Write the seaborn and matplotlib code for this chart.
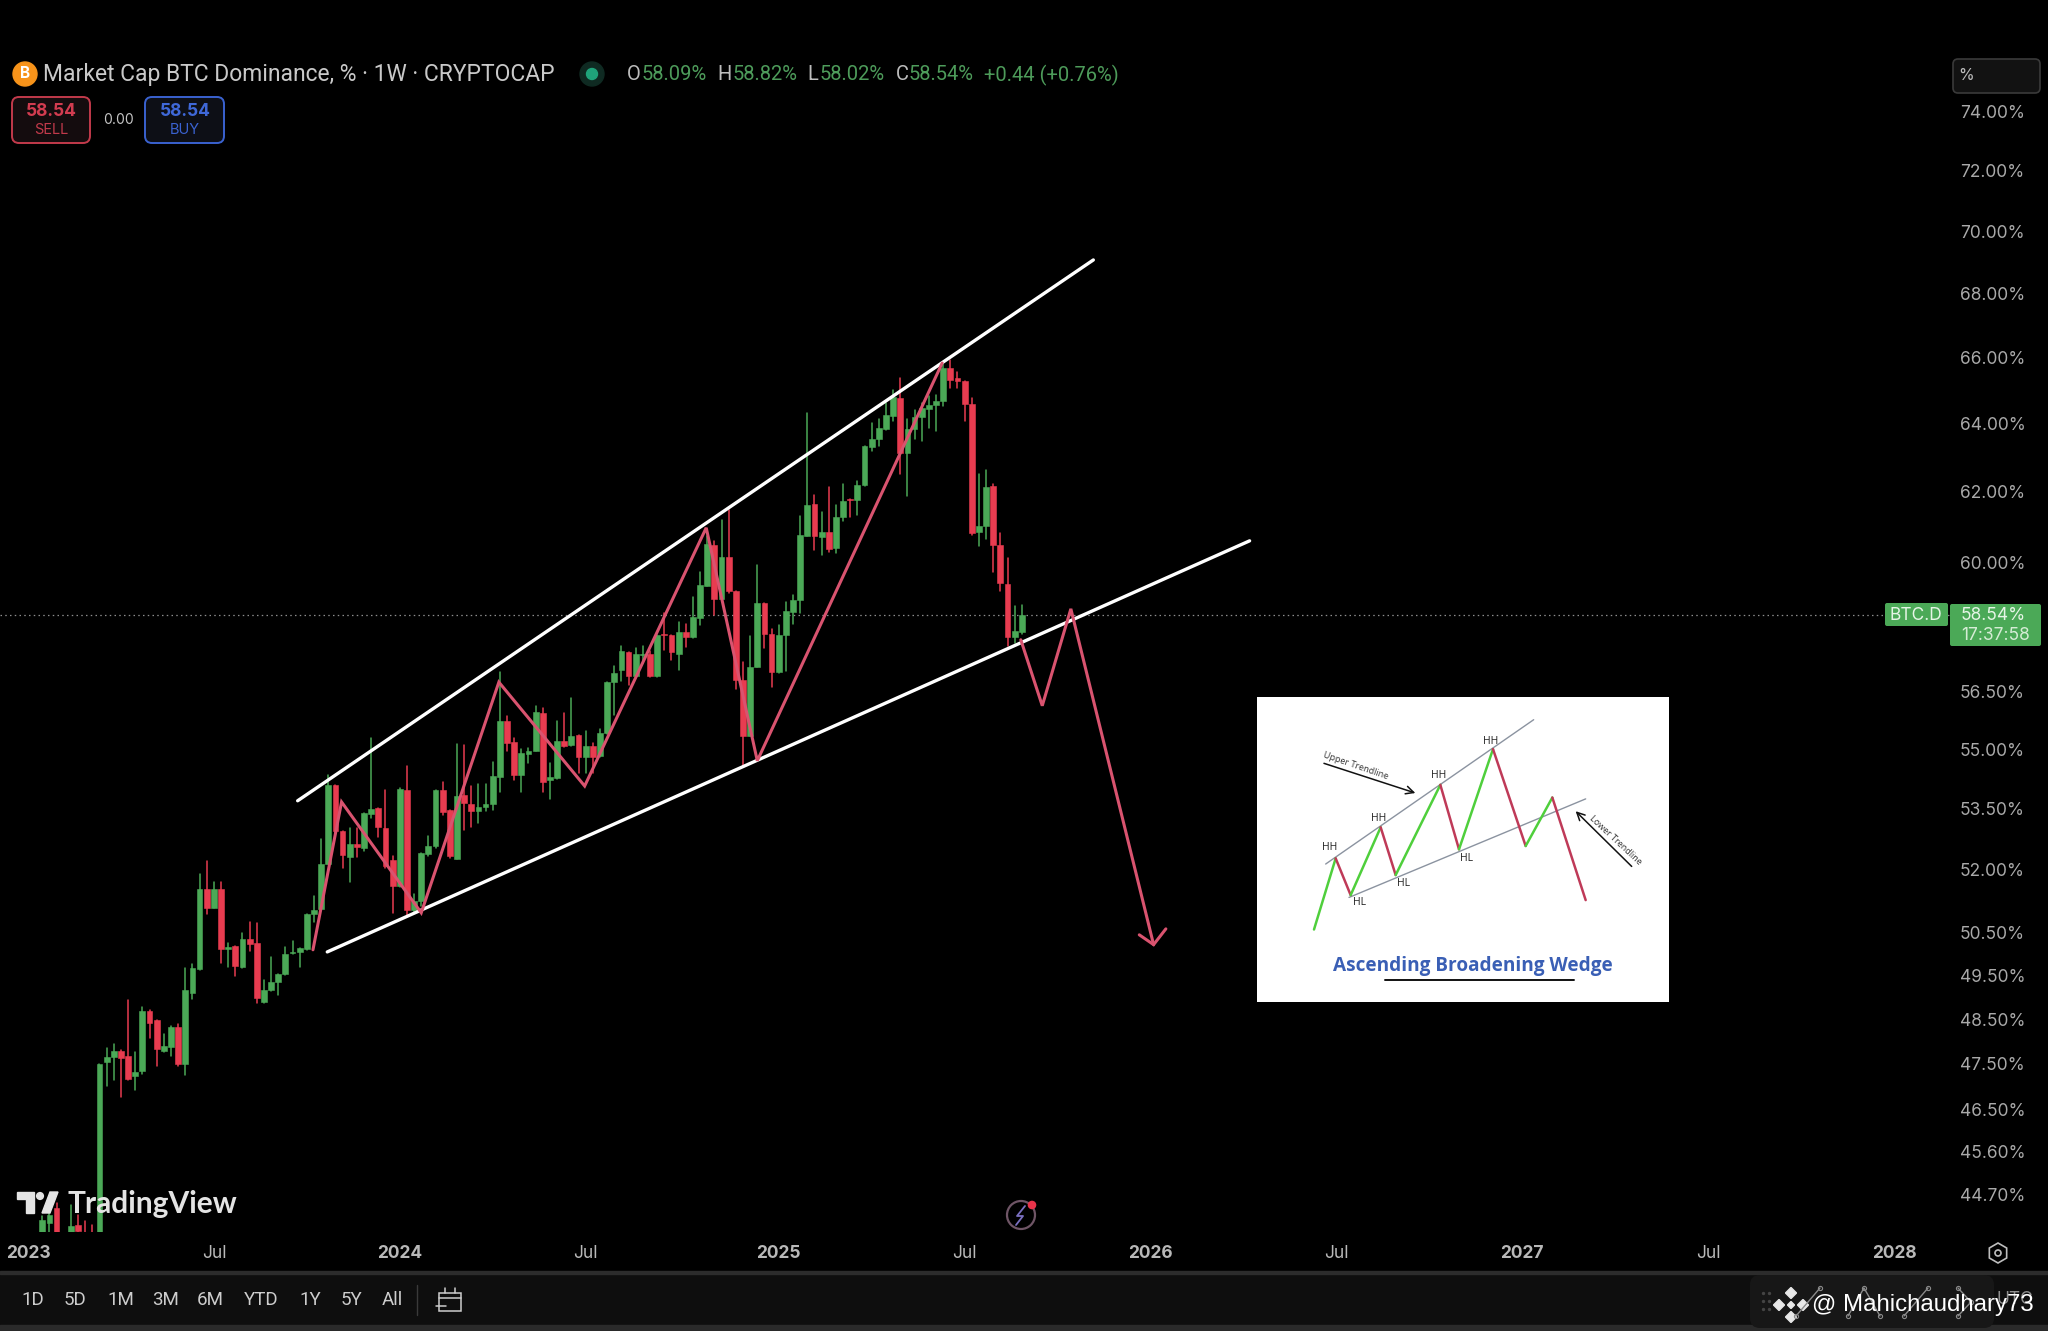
import matplotlib
matplotlib.use('Agg')
import matplotlib.pyplot as plt
import matplotlib.dates as mdates
from matplotlib.patches import Rectangle, Circle, FancyBboxPatch, Polygon, RegularPolygon
from matplotlib.ticker import NullLocator
import numpy as np
import pandas as pd
import seaborn as sns

# --- weekly candles, BTC dominance in percent ---
first_week = '2023-01-16'
opens = [43.80, 44.11, 44.42, 43.50, 43.80, 44.07, 43.85, 43.85,
         43.40, 47.53, 47.65, 47.79, 47.68, 47.22, 47.33, 48.69, 48.47, 47.78,
         47.88, 48.32, 47.50, 49.10, 49.64, 51.53, 51.07, 51.53, 50.11, 50.18,
         49.70, 50.34, 50.24, 48.89, 49.15, 49.34, 49.53, 50.01, 50.04, 50.11,
         50.92, 51.04, 52.14, 54.09, 52.94, 52.30, 52.61, 52.52, 53.36, 53.50,
         53.01, 52.24, 51.59, 53.96, 51.03, 51.23, 52.38, 52.56, 53.95, 53.46,
         52.25, 53.84, 53.61, 53.43, 53.53, 53.61, 54.30, 55.71, 55.18, 54.34,
         54.87, 54.94, 55.93, 54.20, 54.26, 55.20, 55.09, 55.37, 54.79, 55.07,
         54.81, 55.41, 56.75, 57.06, 57.53, 56.89, 57.46, 57.50, 56.89, 58.03,
         57.99, 57.50, 58.08, 57.94, 58.46, 59.35, 60.48, 58.98, 60.14, 59.19,
         56.80, 55.34, 57.15, 58.87, 58.03, 57.00, 57.99, 58.62, 58.96, 60.75,
         61.65, 60.71, 60.85, 60.40, 61.27, 61.79, 61.75, 62.20, 63.31, 63.55,
         63.84, 64.24, 64.76, 63.13, 63.84, 64.19, 64.44, 64.56, 64.68, 65.67,
         65.36, 65.29, 64.59, 60.84, 61.03, 62.18, 60.47, 59.40, 57.94, 58.09]
highs = [44.24, 44.31, 44.52, 43.70, 44.48, 44.26, 44.14, 44.07,
         47.49, 47.85, 47.93, 47.81, 48.93, 47.75, 48.78, 48.71, 48.47, 48.17,
         48.35, 48.39, 49.67, 49.76, 51.88, 52.20, 51.69, 51.69, 50.26, 50.18,
         50.48, 50.75, 50.71, 49.38, 49.92, 49.53, 50.15, 50.29, 50.12, 50.93,
         51.35, 52.73, 54.34, 54.09, 52.94, 53.01, 53.01, 53.38, 55.29, 53.50,
         53.95, 52.32, 54.01, 54.57, 51.42, 52.40, 52.81, 53.95, 54.16, 53.46,
         55.14, 55.09, 54.05, 54.11, 54.11, 54.68, 57.02, 55.86, 55.29, 55.00,
         55.03, 56.12, 56.06, 54.64, 55.71, 55.94, 56.32, 55.37, 55.46, 55.16,
         55.52, 56.75, 57.17, 57.71, 57.53, 57.65, 57.69, 57.56, 58.01, 58.59,
         57.99, 58.34, 58.29, 59.04, 59.74, 60.73, 60.59, 61.18, 61.48, 59.21,
         57.28, 57.97, 59.92, 58.87, 58.15, 58.28, 58.91, 59.10, 61.31, 64.33,
         61.91, 61.43, 62.13, 61.62, 62.22, 61.79, 62.30, 63.35, 64.02, 64.13,
         64.61, 65.01, 65.37, 64.13, 64.41, 64.61, 64.83, 64.86, 65.87, 65.92,
         65.55, 65.29, 64.76, 62.51, 62.62, 62.22, 60.82, 60.12, 58.80, 58.82]
lows = [43.60, 43.93, 43.70, 43.30, 43.70, 43.85, 43.70, 43.70,
        43.30, 47.02, 47.15, 46.78, 47.15, 46.93, 47.27, 48.07, 47.44, 47.75,
        47.67, 47.45, 47.26, 48.95, 49.63, 50.93, 51.07, 49.78, 49.69, 49.49,
        49.67, 50.05, 48.87, 48.86, 49.13, 49.04, 49.51, 50.00, 49.69, 50.09,
        50.75, 51.03, 52.12, 52.90, 52.04, 51.69, 52.30, 52.44, 53.25, 52.78,
        52.04, 50.95, 51.57, 50.87, 50.95, 51.11, 52.32, 52.52, 53.34, 52.28,
        52.25, 52.97, 53.05, 53.13, 53.44, 53.46, 53.90, 54.94, 54.22, 53.92,
        54.64, 54.94, 53.92, 53.73, 54.23, 55.05, 55.07, 54.38, 54.40, 54.40,
        54.79, 55.39, 55.88, 56.76, 56.67, 56.89, 57.24, 56.87, 56.87, 57.60,
        57.32, 57.06, 57.67, 57.92, 58.28, 59.33, 58.55, 58.96, 59.14, 56.55,
        54.57, 55.33, 57.15, 57.65, 56.61, 56.99, 57.04, 58.31, 58.59, 60.75,
        60.34, 60.19, 60.28, 60.26, 61.15, 61.29, 61.34, 62.18, 63.18, 63.35,
        63.82, 64.07, 62.52, 61.89, 63.53, 63.48, 63.87, 63.77, 64.53, 65.06,
        65.06, 64.07, 60.77, 60.45, 60.64, 59.74, 59.19, 57.71, 57.79, 58.02]
closes = [44.17, 44.26, 43.80, 43.60, 44.05, 43.95, 43.80, 43.80,
          47.49, 47.64, 47.78, 47.62, 47.16, 47.31, 48.69, 48.40, 47.83, 47.90,
          48.33, 47.50, 49.17, 49.67, 51.53, 51.07, 51.53, 50.11, 50.15, 49.72,
          50.34, 50.23, 48.97, 49.15, 49.35, 49.53, 49.99, 50.04, 50.12, 50.93,
          51.03, 52.12, 54.09, 52.94, 52.34, 52.61, 52.55, 53.38, 53.48, 53.05,
          52.08, 51.59, 53.98, 51.03, 51.23, 52.40, 52.56, 53.95, 53.42, 52.32,
          53.80, 53.63, 53.44, 53.53, 53.61, 54.32, 55.71, 55.16, 54.34, 54.89,
          54.95, 55.95, 54.17, 54.28, 55.20, 55.07, 55.34, 54.79, 55.07, 54.79,
          55.41, 56.75, 56.99, 57.56, 56.89, 57.50, 57.50, 56.89, 58.01, 57.99,
          57.53, 58.07, 57.94, 58.49, 59.36, 60.50, 58.98, 60.14, 59.19, 56.80,
          55.34, 57.15, 58.87, 58.03, 57.00, 57.99, 58.64, 58.96, 60.76, 61.63,
          60.73, 60.86, 60.37, 61.27, 61.74, 61.75, 62.20, 63.33, 63.55, 63.87,
          64.26, 64.79, 63.13, 63.85, 64.21, 64.48, 64.56, 64.68, 65.67, 65.32,
          65.29, 64.59, 60.82, 61.03, 62.15, 60.49, 59.42, 57.94, 58.10, 58.54]

# --- drawn trendlines and the projected zigzag ---
upper_dates = ['2023-09-23', '2025-11-10']
upper_prices = [53.69, 69.07]
lower_dates = ['2023-10-22', '2026-04-12']
lower_prices = [50.04, 60.60]
zigzag_dates = ['2023-10-08', '2023-11-05', '2024-01-22', '2024-04-07', '2024-06-30',
                '2024-10-27', '2024-12-16', '2025-06-15']
zigzag_prices = [50.09, 53.66, 50.96, 56.74, 54.06, 60.97, 54.70, 65.83]
proj_dates = ['2025-08-31', '2025-09-21', '2025-10-19', '2026-01-08']
proj_prices = [57.87, 56.12, 58.71, 50.21]
head_dates = ['2025-12-25', '2026-01-08', '2026-01-20']
head_prices = [50.44, 50.21, 50.58]

last_price = 58.54
price_ticks = [74, 72, 70, 68, 66, 64, 62, 60, 56.5, 55, 53.5, 52, 50.5, 49.5, 48.5, 47.5, 46.5, 45.6, 44.7]
date_ticks = ['2023-01-02', '2023-07-03', '2024-01-01', '2024-07-01', '2025-01-06', '2025-07-07',
              '2026-01-05', '2026-07-06', '2027-01-04', '2027-07-05', '2028-01-03']
date_labels = ['2023', 'Jul', '2024', 'Jul', '2025', 'Jul', '2026', 'Jul', '2027', 'Jul', '2028']
range_labels = ['1D', '5D', '1M', '3M', '6M', 'YTD', '1Y', '5Y', 'All']

# --- little textbook wedge, in its own units ---
wedge_x = [193, 258, 303, 393, 438, 572, 628, 730, 828, 908, 1008]
wedge_y = [718, 505, 615, 412, 555, 285, 478, 178, 468, 323, 630]
wedge_upper_x = [228, 852]
wedge_upper_y = [522, 90]
wedge_lower_x = [298, 1008]
wedge_lower_y = [622, 327]
hh_x = [241, 387, 566, 722]
hh_y = [473, 385, 256, 155]
hl_x = [328, 463, 651]
hl_y = [638, 579, 506]

GREEN = '#4ba957'
RED = '#e83c50'
PINK = '#d9536f'
TICK = '#a9a9a9'

sns.set_theme(style='dark', rc={'axes.facecolor': 'black', 'figure.facecolor': 'black'})
plt.rcParams['font.family'] = ['Inter', 'DejaVu Sans']

fig = plt.figure(figsize=(20.48, 13.31), dpi=100)
W, H = 2048, 1331
ax = fig.add_axes([0, 1 - 1232 / H, 1950 / W, 1232 / H])

df = pd.DataFrame({'open': opens, 'high': highs, 'low': lows, 'close': closes})
df['date'] = pd.date_range(first_week, periods=len(df), freq='7D')
df['x'] = mdates.date2num(df['date'])
df['dir'] = np.where(df['close'] >= df['open'], 'up', 'down')

# wicks, one short line per week
wicks = df.melt(id_vars=['x', 'dir'], value_vars=['low', 'high'], value_name='price')
sns.lineplot(data=wicks, x='x', y='price', units='x', hue='dir', estimator=None, sort=False,
             palette={'up': GREEN, 'down': RED}, linewidth=1.1, legend=False, ax=ax, zorder=2)

ups = df[df['dir'] == 'up']
downs = df[df['dir'] == 'down']
ax.bar(ups['x'], ups['close'] - ups['open'], bottom=ups['open'], width=5.7, color=GREEN,
       edgecolor=GREEN, linewidth=0.4, zorder=3)
ax.bar(downs['x'], downs['open'] - downs['close'], bottom=downs['close'], width=5.7, color=RED,
       edgecolor=RED, linewidth=0.4, zorder=3)


def draw_line(dates, prices, color, lw, z):
    line = pd.DataFrame({'x': mdates.date2num(pd.to_datetime(dates)), 'y': prices})
    sns.lineplot(data=line, x='x', y='y', color=color, linewidth=lw, estimator=None, sort=False,
                 legend=False, ax=ax, zorder=z, solid_capstyle='round', solid_joinstyle='miter')


draw_line(upper_dates, upper_prices, 'white', 2.4, 5)
draw_line(lower_dates, lower_prices, 'white', 2.4, 5)
draw_line(zigzag_dates, zigzag_prices, PINK, 2.2, 6)
draw_line(proj_dates, proj_prices, PINK, 2.2, 6)
draw_line(head_dates, head_prices, PINK, 2.2, 6)

ax.axhline(last_price, color='#8d8d8d', lw=0.9, ls=(0, (1.2, 2.6)), zorder=1)

t0 = mdates.date2num(pd.Timestamp(date_ticks[0]))
ax.set_xlim(t0 - 27.4, t0 + 1881.7)
ax.set_yscale('log')
ax.set_ylim(43.92, 77.96)
ax.yaxis.tick_right()
ax.set_yticks(price_ticks, labels=[f'{p:.2f}%' for p in price_ticks], color=TICK, fontsize=12.5)
ax.yaxis.set_minor_locator(NullLocator())
ax.set_xticks(mdates.date2num(pd.to_datetime(date_ticks)), labels=date_labels, color='#b8b8b8', fontsize=12.5)
for lab in ax.get_xticklabels():
    if lab.get_text() != 'Jul':
        lab.set_fontweight('bold')
ax.tick_params(axis='both', length=0)
ax.tick_params(axis='y', pad=7)
ax.tick_params(axis='x', pad=9.5)
ax.set_xlabel('')
ax.set_ylabel('')
ax.grid(False)
sns.despine(ax=ax, left=True, bottom=True, right=True, top=True)

# --- inset with the textbook pattern ---
ins = fig.add_axes([1257 / W, 1 - 1002 / H, 412 / W, 305 / H], zorder=4)
ins.set_facecolor('white')
ins.set_xlim(22, 1258)
ins.set_ylim(935, 22)
ins.set_xticks([])
ins.set_yticks([])
ins.set_xlabel('')
ins.set_ylabel('')
ins.grid(False)
sns.despine(ax=ins, left=True, bottom=True, right=True, top=True)
sns.lineplot(x=wedge_upper_x, y=wedge_upper_y, color='#8b93a0', linewidth=1.0, estimator=None, sort=False, ax=ins)
sns.lineplot(x=wedge_lower_x, y=wedge_lower_y, color='#8b93a0', linewidth=1.0, estimator=None, sort=False, ax=ins)
for k in range(len(wedge_x) - 1):
    leg_color = '#4fcf3c' if wedge_y[k + 1] < wedge_y[k] else '#bf3a58'
    sns.lineplot(x=wedge_x[k:k + 2], y=wedge_y[k:k + 2], color=leg_color, linewidth=1.8,
                 estimator=None, sort=False, ax=ins)
for x, y in zip(hh_x, hh_y):
    ins.text(x, y, 'HH', ha='center', va='center', fontsize=7.5, color='#222222', family=['Open Sans', 'DejaVu Sans'])
for x, y in zip(hl_x, hl_y):
    ins.text(x, y, 'HL', ha='center', va='center', fontsize=7.5, color='#222222', family=['Open Sans', 'DejaVu Sans'])
ins.annotate('', xy=(505, 312), xytext=(215, 218), arrowprops=dict(arrowstyle='->', color='#111111', lw=1.1, mutation_scale=14))
ins.annotate('', xy=(972, 358), xytext=(1152, 535), arrowprops=dict(arrowstyle='->', color='#111111', lw=1.1, mutation_scale=14))
ins.text(318, 228, 'Upper Trendline', rotation=-19, ha='center', va='center', fontsize=6.5, color='#333333',
         family=['Open Sans', 'DejaVu Sans'])
ins.text(1097, 450, 'Lower Trendline', rotation=-43, ha='center', va='center', fontsize=6.5, color='#333333',
         family=['Open Sans', 'DejaVu Sans'])
ins.text(669, 826, 'Ascending Broadening Wedge', ha='center', va='center', fontsize=13.7, fontweight='bold',
         color='#3a5fb5', family=['Open Sans', 'DejaVu Sans'])
ins.plot([405, 973], [870, 870], color='#111111', lw=1.4)

# --- screen furniture, laid out in image pixels ---
ui = fig.add_axes([0, 0, 1, 1], zorder=5)
ui.set_xlim(0, W)
ui.set_ylim(H, 0)
ui.axis('off')
ui.patch.set_alpha(0)


def box(x0, y0, x1, y1, face, edge='none', lw=1.0, r=4):
    ui.add_patch(FancyBboxPatch((x0 + r, y0 + r), x1 - x0 - 2 * r, y1 - y0 - 2 * r, boxstyle=f'round,pad={r},rounding_size={r}',
                                facecolor=face, edgecolor=edge, linewidth=lw))


def label(x, y, s, color='#cfcfcf', size=13, ha='left', **kw):
    ui.text(x, y, s, color=color, fontsize=size, ha=ha, va='center', **kw)


# header
ui.add_patch(Circle((25, 74), 12, color='#f7931a'))
label(25, 74, 'B', 'white', 11, 'center', fontweight='bold')
label(43, 75, 'Market Cap BTC Dominance, % · 1W · CRYPTOCAP', '#c9c9c9', 16.5, family=['Roboto', 'DejaVu Sans'])
ui.add_patch(Circle((592, 74), 12, color='#0f2a22'))
ui.add_patch(Circle((592, 74), 5.5, color='#1fa37a'))
ohlc_green = '#4d9b5a'
for x, s, c in [(627, 'O', '#bdbdbd'), (642, '58.09%', ohlc_green), (717, 'H', '#bdbdbd'), (733, '58.82%', ohlc_green),
                (807, 'L', '#bdbdbd'), (820, '58.02%', ohlc_green), (896, 'C', '#bdbdbd'), (909, '58.54%', ohlc_green),
                (984, '+0.44 (+0.76%)', ohlc_green)]:
    label(x, 75, s, c, 14.5, family=['Roboto', 'DejaVu Sans'])
box(12, 97, 90, 143, '#140c0e', '#c23a4b', 1.4, 7)
label(51, 111, '58.54', '#d23c50', 12.5, 'center', fontweight='bold')
label(51, 130, 'SELL', '#c23a4b', 10.5, 'center')
label(118, 120, '0.00', '#c4c4c4', 10, 'center')
box(145, 97, 224, 143, '#0d0f16', '#3a62d0', 1.4, 7)
label(185, 111, '58.54', '#3f68d8', 12.5, 'center', fontweight='bold')
label(185, 130, 'BUY', '#3a62d0', 10.5, 'center')
box(1953, 59, 2040, 93, '#121212', '#3a3a3a', 1.2, 5)
label(1958, 76, '%', '#bdbdbd', 11.5)

# last price tags
box(1885, 603, 1948, 626, GREEN, r=2)
label(1916, 615, 'BTC.D', '#e6f5e6', 12.5, 'center')
box(1950, 604, 2041, 646, GREEN, r=2)
label(1961, 615, '58.54%', '#e6f5e6', 12.5)
label(1961, 635, '17:37:58', '#d5ecd5', 12.5)

# TradingView watermark
ui.add_patch(Polygon([(17, 1192), (34, 1192), (34, 1213), (26, 1213), (26, 1199), (17, 1199)], color='#e4e4e4'))
ui.add_patch(Circle((40, 1196), 3.4, color='#e4e4e4'))
ui.add_patch(Polygon([(42, 1213), (50, 1192), (58, 1192), (50, 1213)], color='#e4e4e4'))
label(67, 1204, 'TradingView', '#e4e4e4', 21.5, family=['Lato', 'DejaVu Sans'], fontweight='bold')

# flash icon
ui.add_patch(Circle((1021, 1215), 14, facecolor='none', edgecolor='#6f5566', linewidth=1.6))
ui.plot([1025, 1017, 1023, 1016], [1206, 1216, 1216, 1225], color='#7a6fc0', lw=1.3)
ui.add_patch(Circle((1032, 1205), 3.6, color='#e8334a'))

# gear
ui.add_patch(RegularPolygon((1998, 1253), 6, radius=10, facecolor='none', edgecolor='#bdbdbd', linewidth=1.2))
ui.add_patch(Circle((1998, 1253), 3, facecolor='none', edgecolor='#bdbdbd', linewidth=1.2))

# bottom toolbar
ui.add_patch(Rectangle((0, 1273), W, 52, color='#0e0e0e'))
ui.add_patch(Rectangle((0, 1271), W, 2.5, color='#2c2c2c'))
ui.add_patch(Rectangle((0, 1325), W, 6, color='#2a2a2a'))
for x, s in zip([33, 75, 121, 166, 210, 261, 310, 351, 392], range_labels):
    label(x, 1300, s, '#cdcdcd', 13.5, 'center', family=['Roboto', 'DejaVu Sans'])
ui.plot([417, 417], [1285, 1315], color='#3a3a3a', lw=1)
ui.add_patch(Rectangle((439, 1293), 22, 18, facecolor='none', edgecolor='#cdcdcd', linewidth=1.1))
ui.plot([439, 461], [1298, 1298], color='#cdcdcd', lw=1.1)
ui.plot([445, 445], [1288, 1293], color='#cdcdcd', lw=1.1)
ui.plot([455, 455], [1288, 1293], color='#cdcdcd', lw=1.1)
ui.plot([436, 446], [1306, 1306], color='#cdcdcd', lw=1.1)

# drawing tools panel and the overlaid handle
box(1750, 1275, 1994, 1328, '#171717', r=10)
for dx in (1763, 1769):
    ui.plot([dx] * 3, [1293, 1301, 1309], ls='none', marker='o', ms=1.4, color='#444444')
for xs, ys in [([1796, 1820], [1316, 1288]),
               ([1848, 1864, 1880], [1316, 1288, 1316]),
               ([1904, 1928], [1316, 1288]),
               ([1958, 1971, 1958], [1288, 1302, 1316])]:
    ui.plot(xs, ys, color='#8a8a8a', lw=1, marker='o', ms=3, mfc='none', mew=0.8)
label(1996, 1300, 'UTC', '#8f8f8f', 12.5)
for cx, cy, r in [(1791, 1293, 5.5), (1791, 1317, 5.5), (1779, 1305, 5.5), (1803, 1305, 5.5), (1791, 1305, 3.5)]:
    ui.add_patch(Polygon([(cx - r, cy), (cx, cy - r), (cx + r, cy), (cx, cy + r)], color='#e8e8e8'))
label(1812, 1305, '@ Mahichaudhary73', 'white', 17.3, family=['Liberation Sans Narrow', 'Liberation Sans'])

fig.savefig('out.png', dpi=100, facecolor='black')
plt.close(fig)
